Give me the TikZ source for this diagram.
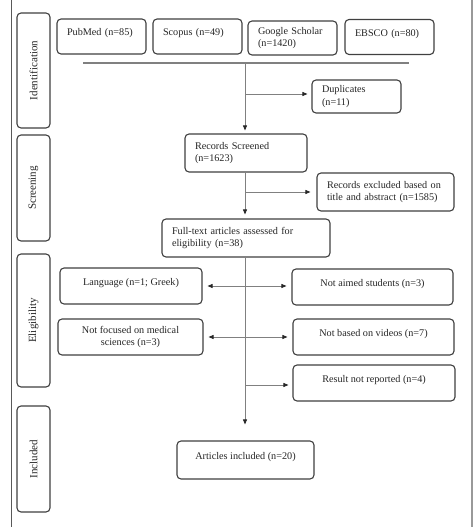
\documentclass[tikz,border=0pt]{standalone}
\usepackage{fontspec}
\setmainfont{Liberation Serif}
\usetikzlibrary{arrows.meta}
\begin{document}
\begin{tikzpicture}[x=1pt,y=-1pt,
  box/.style={draw=black!75, line width=1.1pt, rounded corners=4pt, font=\fontsize{10.2}{12.5}\selectfont, text=black!85, inner ysep=0pt, inner xsep=10pt},
  lbox/.style={box, align=left, text width=#1},
  cbox/.style={box, align=center, inner xsep=2pt},
  phase/.style={box, rotate=90, font=\fontsize{11}{13}\selectfont, minimum height=33pt, inner xsep=2pt},
  upper/.style={text height=7pt, text depth=8pt},
  tip/.tip={Triangle[length=5pt,width=4pt,color=black!85]},
  conn/.style={draw=black!50, line width=0.8pt},
  arr/.style={conn, -tip, shorten >=4pt},
  darr/.style={conn, tip-tip, shorten >=5pt, shorten <=5pt}]
\useasboundingbox (0,0) rectangle (474,527);
\fill[white] (0,0) rectangle (474,527);
\draw[black!65, line width=1pt] (11,0) -- (11,527);
\draw[black!40, line width=2pt] (472,0) -- (472,527);

% phases
\node[phase, minimum width=115pt] (pid) at (33.5,70.5) {Identification};
\node[phase, minimum width=106pt] (psc) at (33.5,188) {Screening};
\node[phase, minimum width=133pt] (pel) at (33.5,320.5) {Eligibility};
\node[phase, minimum width=106pt] (pin) at (33.5,459) {Included};

% sources
\node[lbox=69pt, minimum height=35pt, upper] (pubmed) at (101.5,36.5) {PubMed (n=85)};
\node[lbox=69pt, minimum height=35pt, upper] (scopus) at (197.5,36.5) {Scopus (n=49)};
\node[lbox=69pt, minimum height=34pt] (gs) at (292.5,38) {Google Scholar\\(n=1420)};
\node[lbox=69pt, minimum height=35pt, upper] (ebsco) at (389.5,37) {EBSCO (n=80)};

% flow
\node[lbox=69pt, minimum height=33pt] (dup) at (356.5,96.5) {Duplicates\\(n=11)};
\node[lbox=102pt, minimum height=38pt] (screened) at (246,153) {Records Screened\\(n=1623)};
\node[lbox=117pt, minimum height=38pt] (excl) at (385.5,192) {Records excluded based on\\title and abstract (n=1585)};
\node[lbox=148pt, minimum height=38pt] (fulltext) at (246,238) {Full-text articles assessed for\\eligibility (n=38)};

\node[cbox, minimum width=142pt, minimum height=36pt, upper] (lang) at (131,286) {Language (n=1; Greek)};
\node[cbox, minimum width=161pt, minimum height=36pt, upper] (aimed) at (372.5,287) {Not aimed students (n=3)};
\node[cbox, minimum width=145pt, minimum height=36pt] (focused) at (130.5,337) {Not focused on medical\\sciences (n=3)};
\node[cbox, minimum width=161pt, minimum height=36pt, upper] (videos) at (373.5,337) {Not based on videos (n=7)};
\node[cbox, minimum width=162pt, minimum height=36pt, upper] (result) at (374,383) {Result not reported (n=4)};
\node[cbox, minimum width=137pt, minimum height=38pt, upper] (articles) at (245.5,460) {Articles included (n=20)};

% connectors
\coordinate (mL) at (83,63);
\coordinate (mR) at (409,63);
\coordinate (mC) at (245,63);
\coordinate (b1) at (245,94);
\coordinate (b2) at (245,192);
\coordinate (b3) at (245,385);

\draw[conn, line width=1.1pt] (mL) -- (mR);
\draw[arr, shorten >=3pt] (mC) -- (mC |- screened.north);
\draw[arr] (b1) -- (b1 -| dup.west);
\draw[arr] (screened.south -| mC) -- (mC |- fulltext.north);
\draw[arr, shorten >=6pt] (b2) -- (b2 -| excl.west);
\draw[arr, shorten >=16pt] (fulltext.south -| mC) -- (mC |- articles.north);
\draw[darr] (lang.east) -- (lang.east -| aimed.west);
\draw[darr] (focused.east) -- (focused.east -| videos.west);
\draw[arr] (b3) -- (b3 -| result.west);
\end{tikzpicture}
\end{document}
